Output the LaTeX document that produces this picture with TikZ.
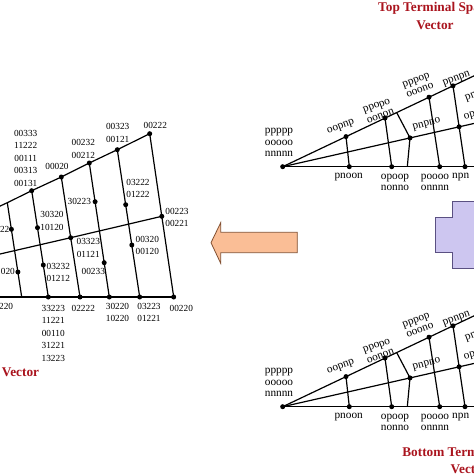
\documentclass[tikz,border=0pt]{standalone}
\usepackage{fontspec}
\setmainfont{Liberation Serif}
\definecolor{titlered}{RGB}{170,20,30}
\definecolor{arrowfill}{RGB}{250,190,150}
\definecolor{arrowline}{RGB}{130,80,50}
\definecolor{plusfill}{RGB}{205,198,240}
\definecolor{plusline}{RGB}{90,80,130}
\begin{document}
\begin{tikzpicture}[x=1pt,y=-1pt,
  dot/.style={circle,fill=black,inner sep=0,minimum size=5pt},
  edge/.style={line width=1.2pt},
  num/.style={font=\fontsize{9.3}{12.5}\selectfont,inner sep=0,align=center},
  lett/.style={font=\fontsize{11.3}{11.2}\selectfont,inner sep=0,align=center},
  ttl/.style={font=\bfseries\fontsize{13.3}{17.7}\selectfont,text=titlered,inner sep=0,align=center},
]
\useasboundingbox (0,0) rectangle (474,474);
\clip (0,0) rectangle (474,474);
\fill[white] (0,0) rectangle (474,474);

% ---------- left (result) diagram ----------
\coordinate (tl) at (-3,207.5);
\coordinate (ta) at (7.3,202.7);
\node[dot] (t1) at (31.7,190.7) {};
\node[dot] (t2) at (61.3,177) {};
\node[dot] (t3) at (89.3,163) {};
\node[dot] (t4) at (117.3,149.7) {};
\node[dot] (t5) at (149.7,133.7) {};
\coordinate (bl) at (-3,297);
\coordinate (ba) at (21.7,297);
\node[dot] (bb1) at (48.3,297) {};
\node[dot] (bb2) at (80,297) {};
\node[dot] (bb3) at (109.3,297) {};
\node[dot] (bb4) at (139.7,297) {};
\node[dot] (bb5) at (173.7,297) {};
\coordinate (ml) at (-3,254.7);
\node[dot] (mc) at (70.7,237.7) {};
\node[dot] (mr) at (161.8,216.3) {};
\node[dot] (a1) at (11.4,229.3) {};
\node[dot] (a2) at (17.9,272) {};
\node[dot] (c1) at (37.5,227.7) {};
\node[dot] (c2) at (43.3,265) {};
\node[dot] (d1) at (95.1,201.7) {};
\node[dot] (d2) at (104.2,262.7) {};
\node[dot] (e1) at (125.7,204.7) {};
\node[dot] (e2) at (131.8,245) {};

\draw[edge] (tl) -- (ta) -- (t1.center) -- (t2.center) -- (t3.center) -- (t4.center) -- (t5.center);
\draw[edge] (bl) -- (bb5.center);
\draw[edge] (ml) -- (mc.center) -- (mr.center);
\draw[edge] (ta) -- (ba);
\draw[edge] (t1.center) -- (bb1.center);
\draw[edge] (t2.center) -- (mc.center) -- (bb2.center);
\draw[edge] (t3.center) -- (bb3.center);
\draw[edge] (t4.center) -- (bb4.center);
\draw[edge] (t5.center) -- (mr.center) -- (bb5.center);

\node[num] (n1) at (25.7,158.3) {00333\\11222\\00111\\00313\\00131};
\node[num] (n2) at (57,166.7) {00020};
\node[num] (n3) at (83.3,148.8) {00232\\00212};
\node[num] (n4) at (117.7,132.8) {00323\\00121};
\node[num] (n5) at (155.3,125) {00222};
\node[num] (n6) at (79.3,201.7) {30223};
\node[num] (n7) at (138,188.3) {03222\\01222};
\node[num] (n8) at (52,220.7) {30320\\10120};
\node[num] (n9) at (177,217.2) {00223\\00221};
\node[num] (n10) at (88.3,247.8) {03323\\01121};
\node[num] (n11) at (147.3,245.3) {00320\\00120};
\node[num] (n12) at (58.3,272.2) {03232\\01212};
\node[num] (n13) at (93.3,271) {00233};
\node[num,anchor=east] (n14) at (9.5,229.3) {22};
\node[num,anchor=east] (n15) at (15,271.5) {020};
\node[num,anchor=east] (n16) at (13.3,306.7) {220};
\node[num] (n17) at (53.3,333.3) {33223\\11221\\00110\\31221\\13223};
\node[num] (n18) at (83.3,308.3) {02222};
\node[num] (n19) at (117.5,312.5) {30220\\10220};
\node[num] (n20) at (149,312.5) {03223\\01221};
\node[num] (n21) at (181.3,308.3) {00220};
\node[ttl] (tt1) at (20.5,372) {Vector};

% ---------- arrow and plus ----------
\filldraw[fill=arrowfill,draw=arrowline,line width=0.8pt]
  (211,242.7) -- (220.7,222.7) -- (220.7,232.3) -- (297.3,232.3) -- (297.3,252.7)
  -- (220.7,252.7) -- (220.7,263.3) -- cycle;
\filldraw[fill=plusfill,draw=plusline,line width=0.8pt]
  (435.7,217.3) -- (452.7,217.3) -- (452.7,201.7) -- (488,201.7) -- (488,217.3)
  -- (505,217.3) -- (505,252.7) -- (488,252.7) -- (488,268.3) -- (452.7,268.3)
  -- (452.7,252.7) -- (435.7,252.7) -- cycle;

% ---------- right (terminal) diagrams ----------
\foreach \dy in {0,240}{
\begin{scope}[shift={(0,\dy)}]
\node[dot] (ap) at (282.7,166.7) {};
\coordinate (uend) at (480,73.0);
\coordinate (mend) at (480,122.1);
\coordinate (bend) at (480,166.7);
\node[dot] (u1) at (346,136.6) {};
\node[dot] (u2) at (385,118.1) {};
\node[dot] (u3) at (429,97.2) {};
\node[dot] (u4) at (453,85.8) {};
\node[dot] (m1) at (410,137.9) {};
\node[dot] (m2) at (459.1,126.8) {};
\node[dot] (r1) at (349.3,166.7) {};
\node[dot] (r2) at (391.7,166.7) {};
\node[dot] (r3) at (439.7,166.7) {};
\node[dot] (r4) at (465,166.7) {};
\coordinate (ktop) at (396.7,112.6);
\coordinate (kbot) at (407.3,166.7);
\draw[edge] (ap.center) -- (uend);
\draw[edge] (ap.center) -- (mend);
\draw[edge] (ap.center) -- (bend);
\draw[edge] (u1.center) -- (r1.center);
\draw[edge] (u2.center) -- (r2.center);
\draw[edge] (u3.center) -- (r3.center);
\draw[edge] (u4.center) -- (m2.center) -- (r4.center);
\draw[edge] (ktop) -- (m1.center) -- (kbot);
\node[lett] (q0) at (279,142.5) {ppppp\\ooooo\\nnnnn};
\node[lett,rotate=20] (q1) at (341,127.2) {oopnp};
\node[lett,rotate=20] (q2) at (378.5,110.8) {ppopo\\oonon};
\node[lett,rotate=20] (q3) at (418,85) {pppop\\ooono};
\node[lett,rotate=20] (q4) at (456.7,79.5) {ppnpn};
\node[lett,rotate=15] (q5) at (426.7,124.5) {pnpno};
\node[lett,rotate=20,anchor=west] (q6) at (465.5,99) {pn};
\node[lett,rotate=15,anchor=west] (q7) at (464,118) {op};
\node[lett] (q8) at (348.7,176.7) {pnoon};
\node[lett] (q9) at (395,182) {opoop\\nonno};
\node[lett] (q10) at (435,182) {poooo\\onnnn};
\node[lett,anchor=west] (q11) at (452,176.7) {npn};
\end{scope}
}
\node[ttl] (tt2) at (435,16.2) {Top Terminal Space\\Vector};
\node[ttl] (tt3) at (469.3,460.5) {Bottom Terminal Space\\Vector};
\end{tikzpicture}
\end{document}
